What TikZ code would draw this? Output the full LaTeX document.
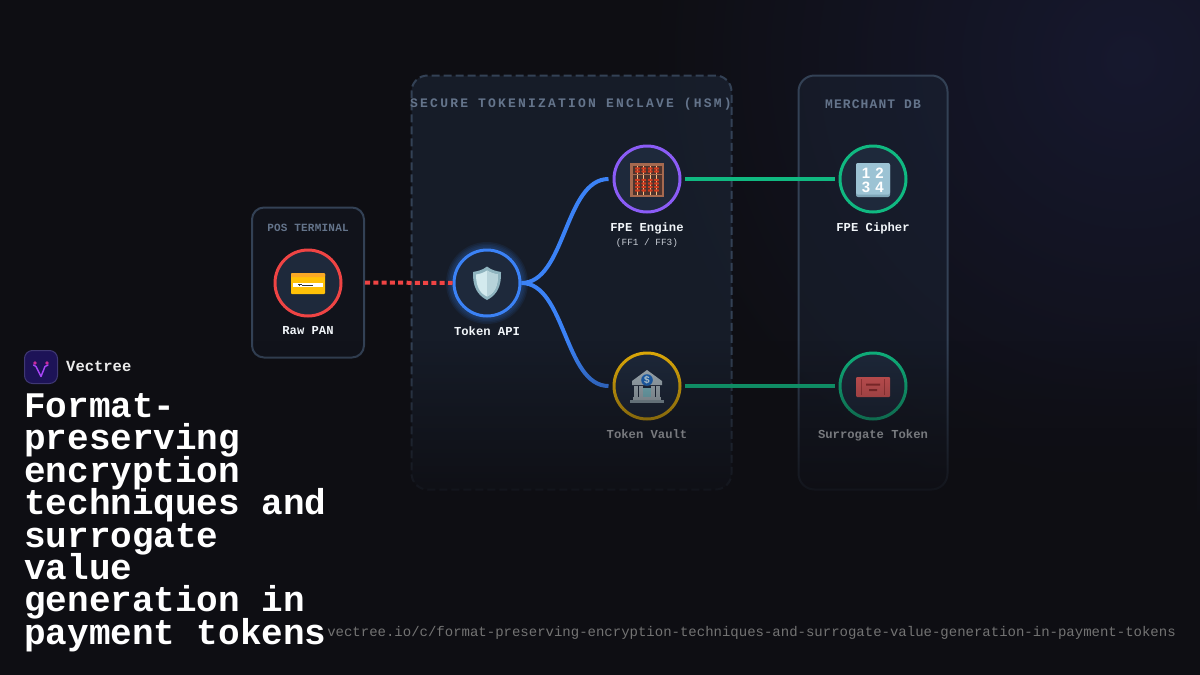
\documentclass[tikz,border=0pt]{standalone}
\usepackage{fontspec}
\setmainfont{Liberation Mono}
\newfontfamily\encfont[LetterSpace=17]{Liberation Mono}
\newfontfamily\merfont[LetterSpace=8.5]{Liberation Mono}
\newfontfamily\posfont[LetterSpace=2]{Liberation Mono}
\newfontfamily\iconfont{Liberation Sans}
\newcommand\headlinefont{\fontsize{36}{32.4}\selectfont\lineskiplimit=-100pt\relax\bfseries}
\usetikzlibrary{fadings}
\definecolor{bgdark}{HTML}{0E0E13}
\definecolor{bgblue}{HTML}{16182E}
\definecolor{slatefill}{HTML}{1E293B}
\definecolor{slateline}{HTML}{334155}
\definecolor{slatetext}{HTML}{64748B}
\definecolor{redc}{HTML}{EF4444}
\definecolor{bluec}{HTML}{3B82F6}
\definecolor{violetc}{HTML}{8B5CF6}
\definecolor{greenc}{HTML}{10B981}
\definecolor{amberc}{HTML}{EAB308}
\definecolor{labelc}{HTML}{F1F5F9}
\definecolor{cardy}{HTML}{FFC107}
\definecolor{cardo}{HTML}{F9A825}
\definecolor{shieldo}{HTML}{8FB4BF}
\definecolor{shieldl}{HTML}{D3EAEE}
\definecolor{shieldr}{HTML}{B7D3DA}
\definecolor{frameb}{HTML}{A5694F}
\definecolor{innerb}{HTML}{4E342E}
\definecolor{beadr}{HTML}{CF3A1E}
\definecolor{keyc}{HTML}{9CC3D4}
\definecolor{keyd}{HTML}{7FA6B8}
\definecolor{bankg}{HTML}{B0BEC5}
\definecolor{bankd}{HTML}{90A4AE}
\definecolor{bankb}{HTML}{1E6BC4}
\definecolor{bankt}{HTML}{84C5CF}
\definecolor{tick}{HTML}{E25B5B}
\definecolor{tickd}{HTML}{9A2F2F}
\tikzfading[name=dimdown, top color=transparent!100, bottom color=transparent!0]
\tikzset{
  x=1pt,y=-1pt,
  flow/.style={circle,draw,line width=3pt,fill=slatefill,minimum size=66pt,inner sep=0pt},
  nodelabel/.style={text=labelc,inner sep=0pt,font=\fontsize{12.2}{12.2}\selectfont\bfseries},
  grouptitle/.style={text=slatetext,inner sep=0pt},
  wire/.style={line width=4pt},
  curvewire/.style={line width=4pt,draw=bluec},
  groupbox/.style={rectangle,rounded corners=16pt,line width=2pt,inner sep=0pt,anchor=north west},
}
\begin{document}
\begin{tikzpicture}
\useasboundingbox (0,0) rectangle (1200,675);
\fill[bgdark] (0,0) rectangle (1200,675);
\begin{scope}
\clip (0,0) rectangle (1200,675);
\shade[inner color=bgblue,outer color=bgdark] (1130,60) circle (480);
\end{scope}

% groups
\node[groupbox,draw=slateline,dashed,dash pattern=on 8pt off 4pt,fill=slatefill,fill opacity=.55,minimum width=320pt,minimum height=414pt] (enclave) at (410.5,74.5) {};
\node[groupbox,draw=slateline,fill=slatefill,fill opacity=.4,minimum width=149pt,minimum height=414pt] (merchant) at (797.5,74.5) {};
\node[groupbox,rounded corners=12pt,draw=slateline,fill=slatefill,fill opacity=.2,minimum width=112pt,minimum height=150pt] (pos) at (251,206.5) {};
\node[grouptitle,font=\fontsize{13}{13}\selectfont\encfont\bfseries] (enclavet) at (571,104.5) {SECURE TOKENIZATION ENCLAVE (HSM)};
\node[grouptitle,font=\fontsize{13}{13}\selectfont\merfont\bfseries] (merchantt) at (873,104.5) {MERCHANT DB};
\node[grouptitle,font=\fontsize{11}{11}\selectfont\posfont\bfseries] (post) at (308,228) {POS TERMINAL};

% glow of the API node
\foreach \r in {41,39.5,38,36.5}{\fill[bluec,fill opacity=.08] (487,283) circle (\r);}

% flow nodes
\node[flow,draw=redc] (raw) at (308,283) {};
\node[flow,draw=bluec] (api) at (487,283) {};
\node[flow,draw=violetc] (fpe) at (647,179) {};
\node[flow,draw=greenc] (cipher) at (873,179) {};
\node[flow,draw=amberc] (vault) at (647,386) {};
\node[flow,draw=greenc] (surr) at (873,386) {};

% connectors
\draw[wire,draw=redc,dash pattern=on 5pt off 3.3pt] (pos.east) -- (api.west);
\draw[curvewire] (api.east) .. controls +(44,0) and +(-44,0) .. ([xshift=-4pt]fpe.west);
\draw[curvewire] (api.east) .. controls +(44,0) and +(-44,0) .. ([xshift=-4pt]vault.west);
\draw[wire,draw=greenc] ([xshift=3.5pt]fpe.east) -- ([xshift=-3.5pt]cipher.west);
\draw[wire,draw=greenc] ([xshift=3.5pt]vault.east) -- ([xshift=-3.5pt]surr.west);

% credit card icon
\begin{scope}[shift={(308,283)}]
\fill[rounded corners=1pt,fill=cardy] (-17,-10) rectangle (17,11);
\fill[rounded corners=1pt,fill=cardo] (-17,-10) rectangle (17,-6);
\fill[fill=white] (-15,0) rectangle (15,4);
\draw[black!80,line width=.6pt] (-10,1) -- (-6,1) (-8.5,1) -- (-8.5,3.3) (-6,2) -- (5,2);
\end{scope}

% shield icon
\begin{scope}[shift={(487,283)}]
\fill[fill=shieldo] (0,-16.5) .. controls (4,-13) and (9,-12) .. (14,-11) .. controls (14.5,3) and (10,12) .. (0,17) .. controls (-10,12) and (-14.5,3) .. (-14,-11) .. controls (-9,-12) and (-4,-13) .. cycle;
\fill[fill=shieldl] (0,-12.5) .. controls (3,-10.5) and (7,-9) .. (11,-8.5) .. controls (11,2) and (8,10) .. (0,13.5) .. controls (-8,10) and (-11,2) .. (-11,-8.5) .. controls (-7,-9) and (-3,-10.5) .. cycle;
\fill[fill=shieldr] (0,-12.5) .. controls (3,-10.5) and (7,-9) .. (11,-8.5) .. controls (11,2) and (8,10) .. (0,13.5) -- cycle;
\end{scope}

% abacus icon
\begin{scope}[shift={(647,179)}]
\fill[fill=frameb] (-17,-16) rectangle (17,18);
\fill[fill=innerb] (-14.5,-13.5) rectangle (14.5,15.5);
\foreach \cx in {-9.5,-3.2,3.2,9.5}{
  \draw[orange!50!white,line width=.8pt] (\cx,-13.5) -- (\cx,15.5);
  \foreach \cy in {-10.5,-7.5,1,4.5,8,11.5}{
    \fill[rounded corners=.8pt,fill=beadr] (\cx-2.4,\cy-1.2) rectangle (\cx+2.4,\cy+1.2);
  }
}
\fill[fill=frameb] (-14.5,-5) rectangle (14.5,-3.6);
\end{scope}

% keycap icon
\begin{scope}[shift={(873,179)}]
\fill[rounded corners=2pt,fill=keyd] (-17,-16) rectangle (17,18);
\fill[rounded corners=2pt,fill=keyc] (-17,-16) rectangle (17,15.5);
\node[inner sep=0pt,text=white,font=\fontsize{15}{15}\selectfont\iconfont\bfseries] (k1) at (-7,-6) {1};
\node[inner sep=0pt,text=white,font=\fontsize{15}{15}\selectfont\iconfont\bfseries] (k2) at (6.5,-6) {2};
\node[inner sep=0pt,text=white,font=\fontsize{15}{15}\selectfont\iconfont\bfseries] (k3) at (-7,8) {3};
\node[inner sep=0pt,text=white,font=\fontsize{15}{15}\selectfont\iconfont\bfseries] (k4) at (6.5,8) {4};
\end{scope}

% bank icon
\begin{scope}[shift={(647,386)}]
\fill[fill=bankg] (0,-16) -- (15,-5) -- (15,-1) -- (-15,-1) -- (-15,-5) -- cycle;
\foreach \cx in {-11,-6,6,11}{\fill[fill=bankg] (\cx-1.8,0) rectangle (\cx+1.8,11);}
\fill[fill=bankt] (-3.8,2) rectangle (3.8,11);
\fill[fill=bankg] (-14,11) rectangle (14,14);
\fill[fill=bankd] (-17,14) rectangle (17,17);
\fill[fill=bankb] (0,-6) circle (5.8);
\node[inner sep=0pt,text=white!85!cyan,font=\fontsize{10}{10}\selectfont\iconfont\bfseries] (dollar) at (0,-6) {\$};
\end{scope}

% ticket icon
\begin{scope}[shift={(873,386)}]
\fill[rounded corners=1pt,fill=tick] (-17,-9) rectangle (17,11);
\draw[tickd!70!tick,line width=.7pt] (-11.5,-7) -- (-11.5,9) (11.5,-7) -- (11.5,9);
\fill[fill=tickd] (-7,-2.5) rectangle (7,-0.5) (-4,3) rectangle (4,5);
\end{scope}

% labels
\node[nodelabel] (rawl) at (308,331) {Raw PAN};
\node[nodelabel] (apil) at (487,331) {Token API};
\node[nodelabel] (fpel) at (647,228) {FPE Engine};
\node[inner sep=0pt,text=white!65!slatetext,font=\fontsize{9.4}{9.4}\selectfont] (fpes) at (647,243) {(FF1 / FF3)};
\node[nodelabel] (cipherl) at (873,228) {FPE Cipher};
\node[nodelabel] (vaultl) at (647,434.5) {Token Vault};
\node[nodelabel] (surrl) at (873,435) {Surrogate Token};

% fade of the diagram towards the bottom
\fill[bgdark,path fading=dimdown] (0,340) rectangle (1200,515);
\fill[bgdark] (0,514.5) rectangle (1200,675);

% brand
\node[rectangle,rounded corners=8pt,draw=violetc!30!slatefill,line width=1pt,fill=blue!40!violetc!35!black,minimum size=33pt,inner sep=0pt] (logo) at (41,367) {};
\draw[violetc!75!magenta,line width=1.4pt,line cap=round,line join=round] (33.5,365) -- (36,366.5) -- (41,376.5) -- (45,366.5) -- (48,365);
\fill[magenta!60!violetc] (35,363) circle (1.8) (47,363) circle (1.8);
\node[anchor=west,inner sep=0pt,text=white!92!black,font=\fontsize{15.5}{15.5}\selectfont\bfseries] (brand) at (66,366.5) {Vectree};
\node[anchor=south west,inner sep=0pt,align=left,text=white,font=\headlinefont] (title) at (24,652) {Format-\\preserving\\encryption\\techniques and\\surrogate\\value\\generation in\\payment tokens};
\node[anchor=east,inner sep=0pt,text=white!45!black,font=\fontsize{14}{14}\selectfont] (url) at (1176,633) {vectree.io/c/format-preserving-encryption-techniques-and-surrogate-value-generation-in-payment-tokens};
\end{tikzpicture}
\end{document}
